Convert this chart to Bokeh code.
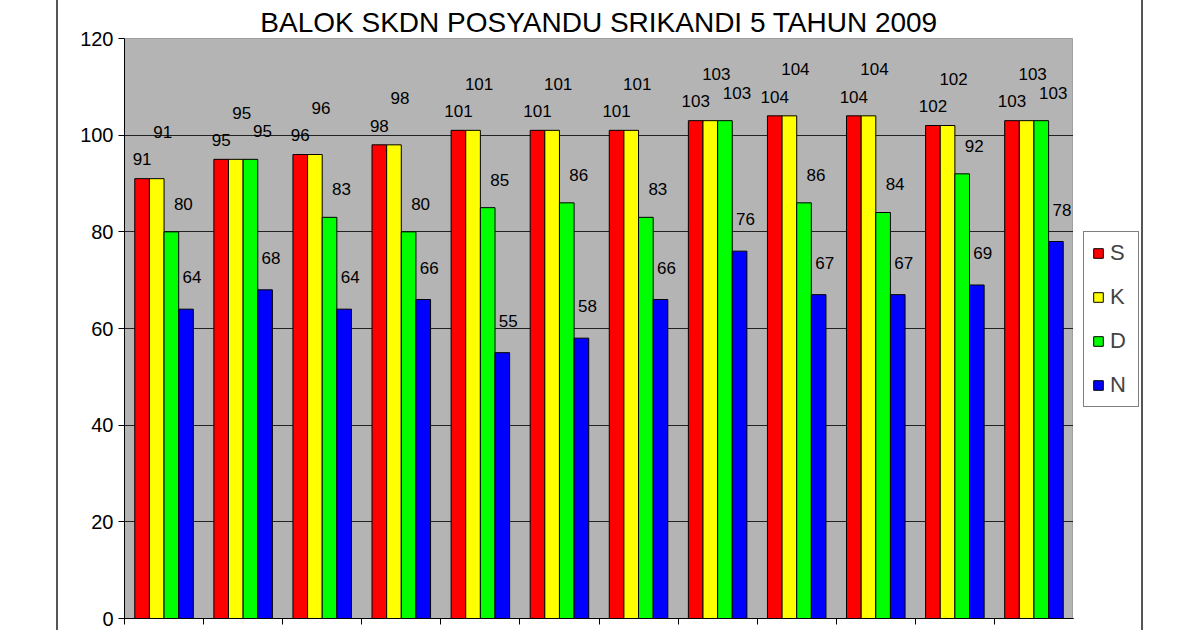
from bokeh.plotting import figure
from bokeh.models import ColumnDataSource, FixedTicker, Legend, LegendItem, Div, Spacer
from bokeh.layouts import row
from bokeh.transform import dodge
from bokeh.embed import file_html
from bokeh.resources import INLINE
from bokeh.core.properties import value

# ---- data ----
months = ["Jan", "Feb", "Mar", "Apr", "Mei", "Jun", "Jul", "Agt", "Sep", "Okt", "Nov", "Des"]
series = ["S", "K", "D", "N"]
S = [91, 95, 96, 98, 101, 101, 101, 103, 104, 104, 102, 103]
K = [91, 95, 96, 98, 101, 101, 101, 103, 104, 104, 102, 103]
D = [80, 95, 83, 80, 85, 86, 83, 103, 86, 84, 92, 103]
N = [64, 68, 64, 66, 55, 58, 66, 76, 67, 67, 69, 78]
y_ticks = [0, 20, 40, 60, 80, 100, 120]
title_text = "BALOK SKDN POSYANDU SRIKANDI 5 TAHUN 2009"

colors = ["#ff0000", "#ffff00", "#00ff00", "#0000ff"]
FONT = "Liberation Sans"

data = {"x": [i + 0.5 for i in range(len(months))], "month": months,
        "S": S, "K": K, "D": D, "N": N}
label_lift = {"S": 4.0, "K": 9.6, "D": 5.8, "N": 6.6}
label_dx = {"S": 0, "K": 6, "D": 12, "N": 6}
for s in series:
    data["ly_" + s] = [v + label_lift[s] for v in data[s]]
    data["lt_" + s] = [str(v) for v in data[s]]
src = ColumnDataSource(data)

FIG_H = 630
p = figure(width=1015, height=FIG_H, x_range=(0, 12), y_range=(0, 120),
           output_backend="svg", toolbar_location=None,
           min_border_left=66, min_border_right=0, min_border_top=38, min_border_bottom=12)

p.title.text = title_text
p.title.align = "center"
p.title.text_font = FONT
p.title.text_font_size = "28px"
p.title.text_font_style = "normal"
p.title.text_color = "black"
p.title.standoff = 2

p.background_fill_color = "#b4b4b4"
p.border_fill_color = "white"
p.outline_line_color = "#a0a0a0"

bw = 0.185
offs = [-1.5 * bw, -0.5 * bw, 0.5 * bw, 1.5 * bw]
for s, c, o in zip(series, colors, offs):
    p.vbar(x=dodge("x", o), top=s, width=bw, bottom=0, source=src,
           fill_color=c, line_color="black", line_width=1)
    p.text(x=dodge("x", o), y="ly_" + s, text="lt_" + s, source=src,
           x_offset=label_dx[s], text_align="center", text_baseline="middle",
           text_font=value(FONT), text_font_size="17px", text_color="black")

p.yaxis.ticker = FixedTicker(ticks=y_ticks)
p.yaxis.major_label_text_font = FONT
p.yaxis.major_label_text_font_size = "20px"
p.yaxis.major_label_text_color = "black"
p.yaxis.major_tick_in = 0
p.yaxis.major_tick_out = 6
p.yaxis.minor_tick_line_color = None
p.yaxis.axis_line_color = "black"
p.yaxis.major_tick_line_color = "black"

p.xaxis.ticker = FixedTicker(ticks=list(range(len(months) + 1)))
p.xaxis.major_label_overrides = {i: "" for i in range(len(months) + 1)}
p.xaxis.major_tick_in = 0
p.xaxis.major_tick_out = 6
p.xaxis.minor_tick_line_color = None
p.xaxis.axis_line_color = "black"
p.xaxis.major_tick_line_color = "black"

p.xgrid.grid_line_color = None
p.ygrid.ticker = FixedTicker(ticks=y_ticks)
p.ygrid.grid_line_color = "#222222"
p.ygrid.grid_line_width = 1

# legend in its own small panel to the right of the plot area
lf = figure(width=68, height=FIG_H, x_range=(0, 1), y_range=(0, 1),
            output_backend="svg", toolbar_location=None,
            x_axis_type=None, y_axis_type=None,
            min_border_left=0, min_border_right=0, min_border_top=0, min_border_bottom=0)
lf.outline_line_color = None
lf.background_fill_color = "white"
lf.border_fill_color = "white"
lf.xgrid.grid_line_color = None
lf.ygrid.grid_line_color = None
# proxy bars placed far outside the visible range, only used for legend swatches
lrs = [lf.vbar(x=[-50], top=[-50], bottom=[-60], width=0.1, fill_color=c, line_color="black")
       for c in colors]
legend = Legend(items=[LegendItem(label=s, renderers=[r]) for s, r in zip(series, lrs)],
                location=(10, 211), orientation="vertical",
                glyph_width=12, glyph_height=12, label_standoff=6,
                label_text_font=FONT, label_text_font_size="22px",
                spacing=18, padding=8, margin=0,
                border_line_color="black", border_line_width=1,
                background_fill_color="white", background_fill_alpha=1)
lf.add_layout(legend)

left_pad = Spacer(width=56, height=FIG_H)
edge_l = Div(text="", width=2, height=FIG_H, margin=0, styles={"background-color": "#555555"})
edge_r = Div(text="", width=2, height=FIG_H, margin=0, styles={"background-color": "#555555"})
layout = row(left_pad, edge_l, p, lf, edge_r, spacing=0)
open("out.html", "w").write(file_html(layout, INLINE))
